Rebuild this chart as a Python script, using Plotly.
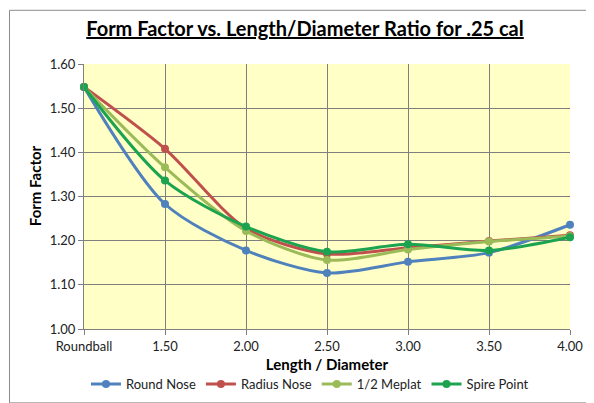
import plotly.graph_objects as go

categories = ["Roundball", "1.50", "2.00", "2.50", "3.00", "3.50", "4.00"]
round_nose = [1.548, 1.283, 1.178, 1.127, 1.152, 1.173, 1.236]
radius_nose = [1.548, 1.408, 1.228, 1.170, 1.184, 1.199, 1.212]
half_meplat = [1.548, 1.366, 1.222, 1.156, 1.180, 1.198, 1.210]
spire_point = [1.548, 1.336, 1.232, 1.175, 1.192, 1.178, 1.208]

series = [
    ("Round Nose", round_nose, "#4F81BD"),
    ("Radius Nose", radius_nose, "#C0504D"),
    ("1/2 Meplat", half_meplat, "#9BBB59"),
    ("Spire Point", spire_point, "#1BA350"),
]

W, H = 594, 403
ML, MR, MT, MB = 76, 32, 56, 78
FONT = "Lato"

fig = go.Figure()
for name, vals, col in series:
    fig.add_trace(go.Scatter(
        x=categories, y=vals, name=name, mode="lines+markers",
        line=dict(color=col, width=3, shape="spline", smoothing=0.8),
        marker=dict(color=col, size=8, symbol="circle"),
        cliponaxis=False,
    ))

pw = W - ML - MR
ph = H - MT - MB
def px2x(p):
    return (p - ML) / pw
def px2y(p):
    return (H - MB - p) / ph

fig.add_shape(type="rect", xref="paper", yref="paper",
              x0=px2x(1.5), x1=px2x(592), y0=px2y(400), y1=px2y(1.5),
              line=dict(color="#8C8C8C", width=1), fillcolor="rgba(0,0,0,0)",
              layer="below")

fig.add_annotation(text="<b>Form Factor</b>", xref="paper", yref="paper",
                   x=px2x(27), y=px2y(180), xanchor="center", yanchor="middle",
                   textangle=-90, showarrow=False,
                   font=dict(family=FONT, size=15, color="black"))

fig.update_layout(
    width=W, height=H,
    margin=dict(l=ML, r=MR, t=MT, b=MB),
    paper_bgcolor="white",
    plot_bgcolor="#FFFFC6",
    font=dict(family=FONT, size=13, color="#222222"),
    title=dict(text="<b><u>Form Factor vs. Length/Diameter Ratio for .25 cal</u></b>",
               x=0.5, xref="container", xanchor="center",
               y=1 - 21 / H, yref="container", yanchor="middle",
               font=dict(family=FONT, size=20, color="black")),
    showlegend=True,
    legend=dict(orientation="h", x=px2x(302), xanchor="center",
                y=px2y(381), yanchor="middle",
                font=dict(family=FONT, size=13, color="#222222"),
                bgcolor="rgba(0,0,0,0)", itemwidth=30,
                traceorder="normal"),
)

fig.update_xaxes(
    type="category", range=[0, 6],
    showgrid=True, gridcolor="#7F7F7F", gridwidth=1,
    showline=True, linecolor="#7F7F7F", linewidth=1,
    ticks="outside", ticklen=5, tickcolor="#7F7F7F",
    tickfont=dict(family=FONT, size=13, color="#222222"),
    title=dict(text="<b>Length / Diameter</b>", standoff=6,
               font=dict(family=FONT, size=15, color="black")),
    mirror=False, zeroline=False,
)
fig.update_yaxes(
    range=[1.0, 1.6], dtick=0.1, tickformat=".2f",
    showgrid=True, gridcolor="#7F7F7F", gridwidth=1,
    showline=True, linecolor="#7F7F7F", linewidth=1,
    ticks="outside", ticklen=5, tickcolor="#7F7F7F",
    tickfont=dict(family=FONT, size=13, color="#222222"),
    zeroline=False,
)

fig.write_html("out.html")
